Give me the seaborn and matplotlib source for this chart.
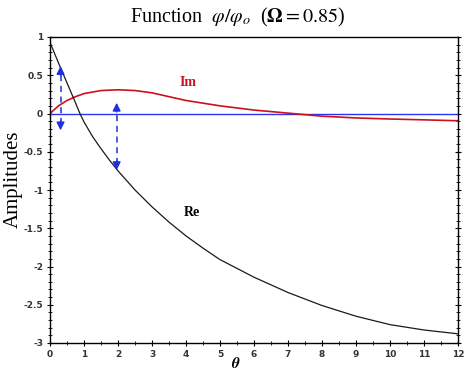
import matplotlib
matplotlib.use("Agg")
import matplotlib.pyplot as plt
from matplotlib.ticker import MultipleLocator
import pandas as pd
import seaborn as sns

# ---- data ----
x_re = [0, 0.25, 0.5, 0.75, 0.88, 1.0, 1.25, 1.5, 1.75, 2.0, 2.5, 3.0, 3.5, 4.0,
        4.5, 5.0, 6.0, 7.0, 8.0, 9.0, 10.0, 11.0, 12.0]
re_vals = [0.93, 0.66, 0.40, 0.14, 0.0, -0.11, -0.30, -0.46, -0.61, -0.75, -1.0,
           -1.22, -1.42, -1.60, -1.76, -1.91, -2.14, -2.34, -2.51, -2.65, -2.76,
           -2.83, -2.88]
x_im = [0, 0.25, 0.5, 0.75, 1.0, 1.5, 2.0, 2.5, 3.0, 3.5, 4.0, 5.0, 6.0, 7.0,
        8.0, 9.0, 10.0, 11.0, 12.0]
im_vals = [0.0, 0.10, 0.17, 0.22, 0.26, 0.30, 0.31, 0.30, 0.27, 0.22, 0.17, 0.10,
           0.045, 0.005, -0.035, -0.058, -0.072, -0.083, -0.095]
x_zero = [0, 12]
zero_vals = [0, 0]
arrow_x = [0.31, 1.96]
arrow_top = [0.62, 0.14]
arrow_bottom = [-0.22, -0.74]
y_ticks = [1, 0.5, 0, -0.5, -1, -1.5, -2, -2.5, -3]
y_tick_labels = ["1", "0.5", "0", "-0.5", "-1", "-1.5", "-2", "-2.5", "-3"]
x_ticks = list(range(0, 13))

sns.set_style("white")
plt.rcParams["font.family"] = ["DejaVu Sans"]
plt.rcParams["mathtext.fontset"] = "stix"
plt.rcParams["text.color"] = "black"

fig = plt.figure(figsize=(4.74, 3.73), dpi=100)
ax = fig.add_axes([50 / 474, 1 - 343 / 373, 408 / 474, 306 / 373])

df_re = pd.DataFrame({"x": x_re, "y": re_vals})
df_im = pd.DataFrame({"x": x_im, "y": im_vals})
df_zero = pd.DataFrame({"x": x_zero, "y": zero_vals})

sns.lineplot(data=df_zero, x="x", y="y", ax=ax, color="#2a35f0", lw=1.0)
sns.lineplot(data=df_im, x="x", y="y", ax=ax, color="#cc1020", lw=1.2)
sns.lineplot(data=df_re, x="x", y="y", ax=ax, color="#1a1a1a", lw=0.9)

# double-headed dashed arrows
for xa, yt, yb in zip(arrow_x, arrow_top, arrow_bottom):
    ax.plot([xa, xa], [yb + 0.08, yt - 0.08], color="#1f2fe0", lw=1.1,
            ls=(0, (4, 3)))
    ax.annotate("", xy=(xa, yt), xytext=(xa, yt - 0.12),
                arrowprops=dict(arrowstyle="-|>", color="#1f2fe0", lw=1.0,
                                mutation_scale=12, shrinkA=0, shrinkB=0))
    ax.annotate("", xy=(xa, yb), xytext=(xa, yb + 0.12),
                arrowprops=dict(arrowstyle="-|>", color="#1f2fe0", lw=1.0,
                                mutation_scale=12, shrinkA=0, shrinkB=0))

ax.text(4.06, 0.40, "Im", color="#cc1020", fontsize=10, fontweight="bold",
        family=["Liberation Serif"], ha="center", va="center")
ax.text(4.18, -1.30, "Re", color="black", fontsize=10, fontweight="bold",
        family=["Liberation Serif"], ha="center", va="center")

ax.set_xlim(0, 12)
ax.set_ylim(-3, 1)
ax.set_xticks(x_ticks)
ax.set_xticklabels([str(v) for v in x_ticks])
ax.set_yticks(y_ticks)
ax.set_yticklabels(y_tick_labels)
ax.xaxis.set_minor_locator(MultipleLocator(0.5))
ax.yaxis.set_minor_locator(MultipleLocator(0.1))
ax.set_xlabel("")
ax.set_ylabel("")

for sp in ax.spines.values():
    sp.set_visible(True)
    sp.set_color("black")
    sp.set_linewidth(1.0)

ax.tick_params(axis="both", which="major", direction="inout", length=4, width=0.8,
               labelsize=6.5, colors="black", pad=3)
ax.tick_params(axis="both", which="minor", direction="inout", length=2.5, width=0.7)
ax.tick_params(axis="y", which="both", right=True, left=True)
ax.tick_params(axis="x", which="both", bottom=True, top=False)
for lab in ax.get_xticklabels() + ax.get_yticklabels():
    lab.set_fontweight("bold")
    lab.set_color("#333333")

fig.text(0.502, 0.952, r"Function  $\varphi/\varphi_o$  ($\mathbf{\Omega} = 0.85$)",
         ha="center", va="center", fontsize=14.5, family=["Liberation Serif"],
         color="black")
fig.text(13 / 474, 1 - 179 / 373, "Amplitudes", rotation=90, ha="center",
         va="center", fontsize=15, family=["Liberation Serif"], color="black")
fig.text(236 / 474, 1 - 371 / 373, r"$\boldsymbol{\theta}$", ha="center",
         va="bottom", fontsize=11, color="black")

fig.savefig("out.png", dpi=100)
